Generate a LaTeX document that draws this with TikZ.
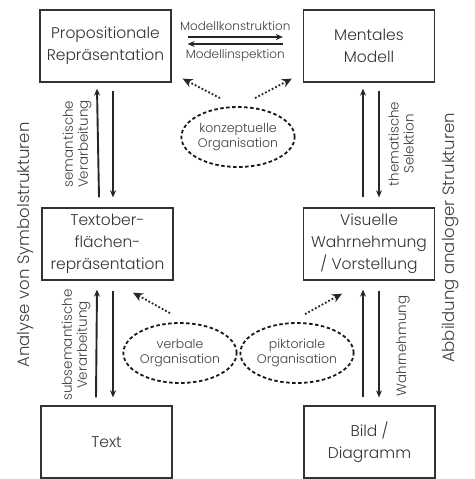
\documentclass[tikz,border=0pt]{standalone}
\usepackage{fontspec}
\setmainfont{Poppins}[UprightFont=* Light]
\usetikzlibrary{shapes.geometric,arrows.meta,calc}
\begin{document}
\begin{tikzpicture}[x=1pt,y=-1pt,
  box/.style={draw=black!80,line width=1.3pt,minimum width=131pt,minimum height=72pt,inner sep=0pt,align=center,font=\fontsize{15.5}{22}\selectfont,text=black!80},
  arr/.style={line width=1.9pt,draw=black!85,-{Stealth[length=7pt,width=6pt]}},
  dotarr/.style={line width=1.8pt,draw=black!85,dotted,-{Stealth[length=10pt,width=9pt,line width=0pt]}},
  org/.style={ellipse,draw=black!90,dashed,line width=1.8pt,dash pattern=on 3.5pt off 2.5pt,minimum width=106pt,minimum height=60pt,inner sep=0pt,align=center,font=\fontsize{12.5}{15}\selectfont,text=black!75},
  lbl/.style={font=\fontsize{12}{13}\selectfont,text=black!75,align=center,inner sep=0pt},
  vlbl/.style={font=\fontsize{13.5}{15}\selectfont,text=black!75,align=center,inner sep=0pt,rotate=90},
  side/.style={font=\fontsize{16.5}{18}\selectfont,text=black!75,inner sep=0pt,rotate=90}]
\useasboundingbox (0,0) rectangle (474,479);
\node[box] (prop) at (105.5,46) {Propositionale\\Repräsentation};
\node[box] (ment) at (369,46) {Mentales\\Modell};
\node[box] (tob) at (107.5,244) {Textober-\\flächen-\\repräsentation};
\node[box] (vis) at (369,244) {Visuelle\\Wahrnehmung\\/ Vorstellung};
\node[box] (text) at (106.5,442) {Text};
\node[box] (bild) at (369.5,442) {Bild /\\Diagramm};
\node[org] (konz) at (238,137) {konzeptuelle\\Organisation};
\node[org] (verb) at (180,353) {verbale\\Organisation};
\node[org] (pikt) at (297,353) {piktoriale\\Organisation};
% horizontal
\draw[arr] ([shift={(16pt,9pt)}]prop.east) -- node[lbl,above=5pt] (mk) {Modellkonstruktion} ([shift={(-20pt,9pt)}]ment.west);
\draw[arr] ([shift={(-20pt,2pt)}]ment.west) -- node[lbl,below=5pt] (mi) {Modellinspektion} ([shift={(16pt,2pt)}]prop.east);
% left column
\draw[arr] ([shift={(-8.5pt,10pt)}]tob.north) -- ([shift={(-8.5pt,-6pt)}]prop.south);
\draw[arr] ([shift={(7.5pt,-8pt)}]prop.south) -- ([shift={(5.5pt,10pt)}]tob.north);
\node[vlbl] (sem) at (77,144) {semantische\\Verarbeitung};
\draw[arr] ([shift={(-10.5pt,8pt)}]text.north) -- ([shift={(-10.5pt,-9pt)}]tob.south);
\draw[arr] ([shift={(5.5pt,-10pt)}]tob.south) -- ([shift={(6.5pt,8pt)}]text.north);
\node[vlbl] (sub) at (76,345) {subsemantische\\Verarbeitung};
% right column
\draw[arr] ([shift={(-6pt,10pt)}]vis.north) -- ([shift={(-6pt,-6pt)}]ment.south);
\draw[arr] ([shift={(10pt,-8pt)}]ment.south) -- ([shift={(10pt,10pt)}]vis.north);
\node[vlbl] (them) at (401,144) {thematische\\Selektion};
\draw[arr] ([shift={(-6.5pt,8pt)}]bild.north) -- ([shift={(-6pt,-9pt)}]vis.south);
\draw[arr] ([shift={(10pt,-10pt)}]vis.south) -- ([shift={(9.5pt,8pt)}]bild.north);
\node[vlbl] (wahr) at (403,346) {Wahrnehmung};
% dotted arrows
\draw[dotarr] ([shift={(-18pt,8pt)}]konz.north) -- ([shift={(11pt,4pt)}]prop.south east);
\draw[dotarr] ([shift={(17pt,8pt)}]konz.north) -- ([shift={(-11pt,4pt)}]ment.south west);
\draw[dotarr] ([shift={(-10pt,9pt)}]verb.north) -- ([shift={(25.5pt,-12pt)}]tob.south);
\draw[dotarr] ([shift={(8pt,8pt)}]pikt.north) -- ([shift={(-27pt,-13pt)}]vis.south);
% side labels
\node[side] (ana) at (26,245) {Analyse von Symbolstrukturen};
\node[side] (abb) at (451,238) {Abbildung analoger Strukturen};
\end{tikzpicture}
\end{document}
